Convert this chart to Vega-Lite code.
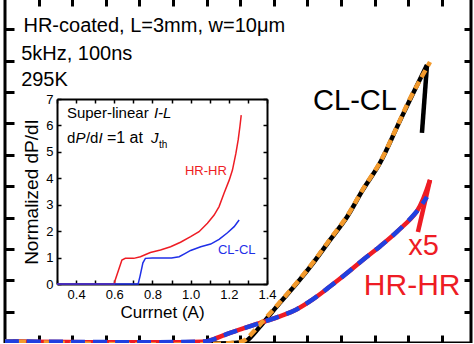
{
  "$schema": "https://vega.github.io/schema/vega-lite/v6.json",
  "width": 466,
  "height": 345,
  "padding": {"left": 5, "top": -2, "right": 3, "bottom": 0},
  "autosize": {"type": "none"},
  "background": "white",
  "config": {
    "font": "Liberation Sans",
    "view": {"stroke": "black", "strokeWidth": 3},
    "axis": {"grid": false, "domainColor": "black", "tickColor": "black", "labelColor": "black", "titleColor": "black", "labelFont": "Liberation Sans", "titleFont": "Liberation Sans", "titleFontWeight": "normal"}
  },
  "datasets": {
    "main": [
      {"s": "CL-CL", "i": 0, "x": 0, "y": 0.05},
      {"s": "CL-CL", "i": 1, "x": 0.714, "y": 0.05},
      {"s": "CL-CL", "i": 2, "x": 0.729, "y": 0.16},
      {"s": "CL-CL", "i": 3, "x": 0.768, "y": 0.64},
      {"s": "CL-CL", "i": 4, "x": 0.818, "y": 1.28},
      {"s": "CL-CL", "i": 5, "x": 0.869, "y": 1.91},
      {"s": "CL-CL", "i": 6, "x": 0.917, "y": 2.55},
      {"s": "CL-CL", "i": 7, "x": 0.967, "y": 3.28},
      {"s": "CL-CL", "i": 8, "x": 1.018, "y": 4.02},
      {"s": "CL-CL", "i": 9, "x": 1.065, "y": 4.88},
      {"s": "CL-CL", "i": 10, "x": 1.116, "y": 5.74},
      {"s": "CL-CL", "i": 11, "x": 1.167, "y": 6.89},
      {"s": "CL-CL", "i": 12, "x": 1.205, "y": 7.75},
      {"s": "CL-CL", "i": 13, "x": 1.256, "y": 8.86},
      {"s": "CL-tail", "i": 0, "x": 1.256, "y": 8.86},
      {"s": "CL-tail", "i": 1, "x": 1.241, "y": 6.7},
      {"s": "CL-fit", "i": 0, "x": 0, "y": 0.05},
      {"s": "CL-fit", "i": 1, "x": 0.705, "y": 0.05},
      {"s": "CL-fit", "i": 2, "x": 0.725, "y": 0.2},
      {"s": "CL-fit", "i": 3, "x": 0.765, "y": 0.66},
      {"s": "CL-fit", "i": 4, "x": 0.818, "y": 1.3},
      {"s": "CL-fit", "i": 5, "x": 0.869, "y": 1.93},
      {"s": "CL-fit", "i": 6, "x": 0.917, "y": 2.57},
      {"s": "CL-fit", "i": 7, "x": 0.967, "y": 3.3},
      {"s": "CL-fit", "i": 8, "x": 1.018, "y": 4.04},
      {"s": "CL-fit", "i": 9, "x": 1.065, "y": 4.9},
      {"s": "CL-fit", "i": 10, "x": 1.116, "y": 5.76},
      {"s": "CL-fit", "i": 11, "x": 1.167, "y": 6.9},
      {"s": "CL-fit", "i": 12, "x": 1.205, "y": 7.78},
      {"s": "CL-fit", "i": 13, "x": 1.265, "y": 8.96},
      {"s": "HR-HR", "i": 0, "x": 0, "y": 0.05},
      {"s": "HR-HR", "i": 1, "x": 0.595, "y": 0.05},
      {"s": "HR-HR", "i": 2, "x": 0.61, "y": 0.08},
      {"s": "HR-HR", "i": 3, "x": 0.67, "y": 0.32},
      {"s": "HR-HR", "i": 4, "x": 0.768, "y": 0.67},
      {"s": "HR-HR", "i": 5, "x": 0.818, "y": 0.85},
      {"s": "HR-HR", "i": 6, "x": 0.869, "y": 1.08},
      {"s": "HR-HR", "i": 7, "x": 0.917, "y": 1.4},
      {"s": "HR-HR", "i": 8, "x": 0.967, "y": 1.8},
      {"s": "HR-HR", "i": 9, "x": 1.018, "y": 2.23},
      {"s": "HR-HR", "i": 10, "x": 1.065, "y": 2.65},
      {"s": "HR-HR", "i": 11, "x": 1.116, "y": 3.08},
      {"s": "HR-HR", "i": 12, "x": 1.167, "y": 3.55},
      {"s": "HR-HR", "i": 13, "x": 1.226, "y": 4.2},
      {"s": "HR-HR", "i": 14, "x": 1.265, "y": 5.2},
      {"s": "HR-tail", "i": 0, "x": 1.265, "y": 5.2},
      {"s": "HR-tail", "i": 1, "x": 1.229, "y": 3.54},
      {"s": "HR-fit", "i": 0, "x": 0, "y": 0.05},
      {"s": "HR-fit", "i": 1, "x": 0.595, "y": 0.05},
      {"s": "HR-fit", "i": 2, "x": 0.61, "y": 0.08},
      {"s": "HR-fit", "i": 3, "x": 0.67, "y": 0.32},
      {"s": "HR-fit", "i": 4, "x": 0.768, "y": 0.67},
      {"s": "HR-fit", "i": 5, "x": 0.818, "y": 0.85},
      {"s": "HR-fit", "i": 6, "x": 0.869, "y": 1.08},
      {"s": "HR-fit", "i": 7, "x": 0.917, "y": 1.4},
      {"s": "HR-fit", "i": 8, "x": 0.967, "y": 1.8},
      {"s": "HR-fit", "i": 9, "x": 1.018, "y": 2.23},
      {"s": "HR-fit", "i": 10, "x": 1.065, "y": 2.65},
      {"s": "HR-fit", "i": 11, "x": 1.116, "y": 3.08},
      {"s": "HR-fit", "i": 12, "x": 1.167, "y": 3.55},
      {"s": "HR-fit", "i": 13, "x": 1.226, "y": 4.2},
      {"s": "HR-fit", "i": 14, "x": 1.256, "y": 4.66}
    ],
    "inset": [
      {"s": "HR-HR", "i": 0, "x": 0.3, "y": 0},
      {"s": "HR-HR", "i": 1, "x": 0.6, "y": 0},
      {"s": "HR-HR", "i": 2, "x": 0.605, "y": 0.15},
      {"s": "HR-HR", "i": 3, "x": 0.64, "y": 0.91},
      {"s": "HR-HR", "i": 4, "x": 0.658, "y": 0.97},
      {"s": "HR-HR", "i": 5, "x": 0.702, "y": 0.97},
      {"s": "HR-HR", "i": 6, "x": 0.737, "y": 1.03},
      {"s": "HR-HR", "i": 7, "x": 0.789, "y": 1.19},
      {"s": "HR-HR", "i": 8, "x": 0.842, "y": 1.29},
      {"s": "HR-HR", "i": 9, "x": 0.895, "y": 1.41},
      {"s": "HR-HR", "i": 10, "x": 0.947, "y": 1.58},
      {"s": "HR-HR", "i": 11, "x": 1.0, "y": 1.79},
      {"s": "HR-HR", "i": 12, "x": 1.044, "y": 1.98},
      {"s": "HR-HR", "i": 13, "x": 1.088, "y": 2.3},
      {"s": "HR-HR", "i": 14, "x": 1.123, "y": 2.61},
      {"s": "HR-HR", "i": 15, "x": 1.149, "y": 2.93},
      {"s": "HR-HR", "i": 16, "x": 1.175, "y": 3.43},
      {"s": "HR-HR", "i": 17, "x": 1.202, "y": 3.93},
      {"s": "HR-HR", "i": 18, "x": 1.219, "y": 4.31},
      {"s": "HR-HR", "i": 19, "x": 1.237, "y": 4.94},
      {"s": "HR-HR", "i": 20, "x": 1.249, "y": 5.45},
      {"s": "HR-HR", "i": 21, "x": 1.258, "y": 5.95},
      {"s": "HR-HR", "i": 22, "x": 1.265, "y": 6.39},
      {"s": "CL-CL", "i": 0, "x": 0.3, "y": 0},
      {"s": "CL-CL", "i": 1, "x": 0.725, "y": 0},
      {"s": "CL-CL", "i": 2, "x": 0.735, "y": 0.3},
      {"s": "CL-CL", "i": 3, "x": 0.75, "y": 0.8},
      {"s": "CL-CL", "i": 4, "x": 0.763, "y": 0.97},
      {"s": "CL-CL", "i": 5, "x": 0.8, "y": 0.98},
      {"s": "CL-CL", "i": 6, "x": 0.85, "y": 0.98},
      {"s": "CL-CL", "i": 7, "x": 0.9, "y": 0.98},
      {"s": "CL-CL", "i": 8, "x": 0.94, "y": 1.03},
      {"s": "CL-CL", "i": 9, "x": 0.97, "y": 1.15},
      {"s": "CL-CL", "i": 10, "x": 1.0, "y": 1.27},
      {"s": "CL-CL", "i": 11, "x": 1.053, "y": 1.41},
      {"s": "CL-CL", "i": 12, "x": 1.105, "y": 1.51},
      {"s": "CL-CL", "i": 13, "x": 1.149, "y": 1.69},
      {"s": "CL-CL", "i": 14, "x": 1.193, "y": 1.94},
      {"s": "CL-CL", "i": 15, "x": 1.228, "y": 2.17},
      {"s": "CL-CL", "i": 16, "x": 1.254, "y": 2.42}
    ],
    "info": [
      {"t": "HR-coated, L=3mm, w=10μm", "x": 0.055, "y": 9.92},
      {"t": "5kHz, 100ns", "x": 0.048, "y": 9.02},
      {"t": "295K", "x": 0.048, "y": 8.19}
    ],
    "big": [
      {"k": "CL", "t": "CL-CL", "x": 0.917, "y": 7.43},
      {"k": "HR", "t": "HR-HR", "x": 1.068, "y": 1.53},
      {"k": "x5", "t": "x5", "x": 1.2, "y": 2.81}
    ],
    "note": [
      {"k": "a", "t": "Super-linear", "x": 0.352, "y": 6.28},
      {"k": "b", "t": "I-L", "x": 0.352, "y": 6.28},
      {"k": "c", "t": "d", "x": 0.352, "y": 5.33},
      {"k": "d", "t": "P", "x": 0.352, "y": 5.33},
      {"k": "e", "t": "/d", "x": 0.352, "y": 5.33},
      {"k": "f", "t": "I", "x": 0.352, "y": 5.33},
      {"k": "g", "t": "=1 at", "x": 0.352, "y": 5.33},
      {"k": "h", "t": "J", "x": 0.352, "y": 5.33},
      {"k": "i", "t": "th", "x": 0.352, "y": 5.33},
      {"k": "HR", "t": "HR-HR", "x": 0.97, "y": 4.12},
      {"k": "CL", "t": "CL-CL", "x": 1.143, "y": 1.135}
    ]
  },
  "layer": [
    {
      "layer": [
        {
          "data": {"name": "main"},
          "transform": [{"filter": "datum.s === 'CL-CL'"}],
          "mark": {"type": "line", "color": "black", "strokeWidth": 4.5, "interpolate": "catmull-rom"},
          "encoding": {
            "x": {"field": "x", "type": "quantitative", "scale": {"domain": [0, 1.387], "nice": false, "zero": false},
              "axis": {"orient": "bottom", "values": [0.1, 0.2, 0.3, 0.4, 0.5, 0.6, 0.7, 0.8, 0.9, 1.0, 1.1, 1.2, 1.3], "labels": false, "domain": false, "tickSize": -8, "tickWidth": 3, "title": null}},
            "y": {"field": "y", "type": "quantitative", "scale": {"domain": [0, 11], "nice": false, "zero": false},
              "axis": {"orient": "left", "values": [1, 2, 3, 4, 5, 6, 7, 8, 9, 10], "labels": false, "domain": false, "tickSize": -9, "tickWidth": 3, "title": null}},
            "order": {"field": "i", "type": "quantitative"}
          }
        },
        {
          "data": {"name": "main"},
          "transform": [{"filter": "datum.s === 'CL-tail'"}],
          "mark": {"type": "line", "color": "black", "strokeWidth": 4.5},
          "encoding": {
            "x": {"field": "x", "type": "quantitative", "axis": null},
            "y": {"field": "y", "type": "quantitative", "axis": null},
            "order": {"field": "i", "type": "quantitative"}
          }
        },
        {
          "data": {"name": "main"},
          "transform": [{"filter": "datum.s === 'HR-HR'"}],
          "mark": {"type": "line", "color": "#ee1c24", "strokeWidth": 4.5, "interpolate": "catmull-rom"},
          "encoding": {
            "x": {"field": "x", "type": "quantitative", "axis": null},
            "y": {"field": "y", "type": "quantitative", "axis": null},
            "order": {"field": "i", "type": "quantitative"}
          }
        },
        {
          "data": {"name": "main"},
          "transform": [{"filter": "datum.s === 'HR-tail'"}],
          "mark": {"type": "line", "color": "#ee1c24", "strokeWidth": 4.5},
          "encoding": {
            "x": {"field": "x", "type": "quantitative", "axis": null},
            "y": {"field": "y", "type": "quantitative", "axis": null},
            "order": {"field": "i", "type": "quantitative"}
          }
        },
        {
          "data": {"name": "main"},
          "transform": [{"filter": "datum.s === 'CL-fit'"}],
          "mark": {"type": "line", "color": "#f39a2c", "strokeWidth": 4.5, "strokeDash": [8, 5], "interpolate": "catmull-rom"},
          "encoding": {
            "x": {"field": "x", "type": "quantitative",
              "axis": {"orient": "top", "values": [0.1, 0.2, 0.3, 0.4, 0.5, 0.6, 0.7, 0.8, 0.9, 1.0, 1.1, 1.2, 1.3], "labels": false, "domain": false, "tickSize": -8, "tickWidth": 3, "title": null}},
            "y": {"field": "y", "type": "quantitative",
              "axis": {"orient": "right", "values": [1, 2, 3, 4, 5, 6, 7, 8, 9, 10], "labels": false, "domain": false, "tickSize": -7, "tickWidth": 3, "title": null}},
            "order": {"field": "i", "type": "quantitative"}
          }
        },
        {
          "data": {"name": "main"},
          "transform": [{"filter": "datum.s === 'HR-fit'"}],
          "mark": {"type": "line", "color": "#2040e0", "strokeWidth": 4.5, "strokeDash": [14, 8], "interpolate": "catmull-rom"},
          "encoding": {
            "x": {"field": "x", "type": "quantitative", "axis": null},
            "y": {"field": "y", "type": "quantitative", "axis": null},
            "order": {"field": "i", "type": "quantitative"}
          }
        },
        {
          "data": {"name": "info"},
          "mark": {"type": "text", "align": "left", "baseline": "alphabetic", "fontSize": 20, "color": "black"},
          "encoding": {
            "x": {"field": "x", "type": "quantitative", "axis": null},
            "y": {"field": "y", "type": "quantitative", "axis": null},
            "text": {"field": "t"}
          }
        },
        {
          "data": {"name": "big"},
          "transform": [{"filter": "datum.k === 'CL'"}],
          "mark": {"type": "text", "align": "left", "baseline": "alphabetic", "fontSize": 29, "color": "black"},
          "encoding": {
            "x": {"field": "x", "type": "quantitative", "axis": null},
            "y": {"field": "y", "type": "quantitative", "axis": null},
            "text": {"field": "t"}
          }
        },
        {
          "data": {"name": "big"},
          "transform": [{"filter": "datum.k === 'HR'"}],
          "mark": {"type": "text", "align": "left", "baseline": "alphabetic", "fontSize": 30, "color": "#ee1c24"},
          "encoding": {
            "x": {"field": "x", "type": "quantitative", "axis": null},
            "y": {"field": "y", "type": "quantitative", "axis": null},
            "text": {"field": "t"}
          }
        },
        {
          "data": {"name": "big"},
          "transform": [{"filter": "datum.k === 'x5'"}],
          "mark": {"type": "text", "align": "left", "baseline": "alphabetic", "fontSize": 29, "color": "#ee1c24"},
          "encoding": {
            "x": {"field": "x", "type": "quantitative", "axis": null},
            "y": {"field": "y", "type": "quantitative", "axis": null},
            "text": {"field": "t"}
          }
        }
      ],
      "resolve": {"axis": {"x": "independent", "y": "independent"}}
    },
    {
      "layer": [
        {
          "data": {"name": "inset"},
          "transform": [{"filter": "datum.s === 'HR-HR'"}],
          "mark": {"type": "line", "color": "#ee1c24", "strokeWidth": 1.5},
          "encoding": {
            "x": {"field": "x", "type": "quantitative", "scale": {"domain": [0.3, 1.4], "range": [52, 262], "nice": false, "zero": false},
              "axis": {"orient": "bottom", "offset": -59, "values": [0.3, 0.4, 0.5, 0.6, 0.7, 0.8, 0.9, 1.0, 1.1, 1.2, 1.3, 1.4],
                "labelExpr": "round(datum.value*10) % 2 == 0 ? format(datum.value, '.1f') : ''",
                "domainWidth": 2, "tickSize": -4, "tickWidth": 1.5, "labelFontSize": 13, "labelPadding": 8, "labelFlush": false, "labelOverlap": false,
                "title": "Currnet (A)", "titleFontSize": 17, "titlePadding": 3}},
            "y": {"field": "y", "type": "quantitative", "scale": {"domain": [0, 7], "range": [286, 101], "nice": false, "zero": false},
              "axis": {"orient": "left", "offset": -52, "values": [0, 1, 2, 3, 4, 5, 6, 7],
                "domainWidth": 2, "tickSize": -4, "tickWidth": 1.5, "labelFontSize": 13, "labelPadding": 8, "labelFlush": false, "labelOverlap": false,
                "title": "Normalized dP/dI", "titleFontSize": 19, "titlePadding": 4}},
            "order": {"field": "i", "type": "quantitative"}
          }
        },
        {
          "data": {"name": "inset"},
          "transform": [{"filter": "datum.s === 'CL-CL'"}],
          "mark": {"type": "line", "color": "#1f2fe8", "strokeWidth": 1.5},
          "encoding": {
            "x": {"field": "x", "type": "quantitative",
              "axis": {"orient": "top", "offset": -101, "values": [0.3, 0.4, 0.5, 0.6, 0.7, 0.8, 0.9, 1.0, 1.1, 1.2, 1.3, 1.4],
                "labels": false, "domainWidth": 2, "tickSize": -4, "tickWidth": 1.5, "title": null}},
            "y": {"field": "y", "type": "quantitative",
              "axis": {"orient": "right", "offset": -204, "values": [0, 1, 2, 3, 4, 5, 6, 7],
                "labels": false, "domainWidth": 2, "tickSize": -4, "tickWidth": 1.5, "title": null}},
            "order": {"field": "i", "type": "quantitative"}
          }
        },
        {
          "data": {"name": "note"},
          "transform": [{"filter": "datum.k === 'a' || datum.k === 'c'"}],
          "mark": {"type": "text", "align": "left", "baseline": "alphabetic", "fontSize": 15, "color": "black"},
          "encoding": {"x": {"field": "x", "type": "quantitative", "axis": null}, "y": {"field": "y", "type": "quantitative", "axis": null}, "text": {"field": "t"}}
        },
        {
          "data": {"name": "note"},
          "transform": [{"filter": "datum.k === 'b'"}],
          "mark": {"type": "text", "align": "left", "baseline": "alphabetic", "fontSize": 15, "fontStyle": "italic", "color": "black", "dx": 87},
          "encoding": {"x": {"field": "x", "type": "quantitative", "axis": null}, "y": {"field": "y", "type": "quantitative", "axis": null}, "text": {"field": "t"}}
        },
        {
          "data": {"name": "note"},
          "transform": [{"filter": "datum.k === 'd'"}],
          "mark": {"type": "text", "align": "left", "baseline": "alphabetic", "fontSize": 15, "fontStyle": "italic", "color": "black", "dx": 8.5},
          "encoding": {"x": {"field": "x", "type": "quantitative", "axis": null}, "y": {"field": "y", "type": "quantitative", "axis": null}, "text": {"field": "t"}}
        },
        {
          "data": {"name": "note"},
          "transform": [{"filter": "datum.k === 'e'"}],
          "mark": {"type": "text", "align": "left", "baseline": "alphabetic", "fontSize": 15, "color": "black", "dx": 19},
          "encoding": {"x": {"field": "x", "type": "quantitative", "axis": null}, "y": {"field": "y", "type": "quantitative", "axis": null}, "text": {"field": "t"}}
        },
        {
          "data": {"name": "note"},
          "transform": [{"filter": "datum.k === 'f'"}],
          "mark": {"type": "text", "align": "left", "baseline": "alphabetic", "fontSize": 15, "fontStyle": "italic", "color": "black", "dx": 31.5},
          "encoding": {"x": {"field": "x", "type": "quantitative", "axis": null}, "y": {"field": "y", "type": "quantitative", "axis": null}, "text": {"field": "t"}}
        },
        {
          "data": {"name": "note"},
          "transform": [{"filter": "datum.k === 'g'"}],
          "mark": {"type": "text", "align": "left", "baseline": "alphabetic", "fontSize": 16, "color": "black", "dx": 40},
          "encoding": {"x": {"field": "x", "type": "quantitative", "axis": null}, "y": {"field": "y", "type": "quantitative", "axis": null}, "text": {"field": "t"}}
        },
        {
          "data": {"name": "note"},
          "transform": [{"filter": "datum.k === 'h'"}],
          "mark": {"type": "text", "align": "left", "baseline": "alphabetic", "fontSize": 15, "fontStyle": "italic", "color": "black", "dx": 84},
          "encoding": {"x": {"field": "x", "type": "quantitative", "axis": null}, "y": {"field": "y", "type": "quantitative", "axis": null}, "text": {"field": "t"}}
        },
        {
          "data": {"name": "note"},
          "transform": [{"filter": "datum.k === 'i'"}],
          "mark": {"type": "text", "align": "left", "baseline": "alphabetic", "fontSize": 10, "color": "black", "dx": 92, "dy": 5},
          "encoding": {"x": {"field": "x", "type": "quantitative", "axis": null}, "y": {"field": "y", "type": "quantitative", "axis": null}, "text": {"field": "t"}}
        },
        {
          "data": {"name": "note"},
          "transform": [{"filter": "datum.k === 'HR'"}],
          "mark": {"type": "text", "align": "left", "baseline": "alphabetic", "fontSize": 13, "color": "#ee1c24"},
          "encoding": {"x": {"field": "x", "type": "quantitative", "axis": null}, "y": {"field": "y", "type": "quantitative", "axis": null}, "text": {"field": "t"}}
        },
        {
          "data": {"name": "note"},
          "transform": [{"filter": "datum.k === 'CL'"}],
          "mark": {"type": "text", "align": "left", "baseline": "alphabetic", "fontSize": 13, "color": "#1f2fe8"},
          "encoding": {"x": {"field": "x", "type": "quantitative", "axis": null}, "y": {"field": "y", "type": "quantitative", "axis": null}, "text": {"field": "t"}}
        }
      ],
      "resolve": {"axis": {"x": "independent", "y": "independent"}}
    }
  ],
  "resolve": {"scale": {"x": "independent", "y": "independent"}, "axis": {"x": "independent", "y": "independent"}}
}
